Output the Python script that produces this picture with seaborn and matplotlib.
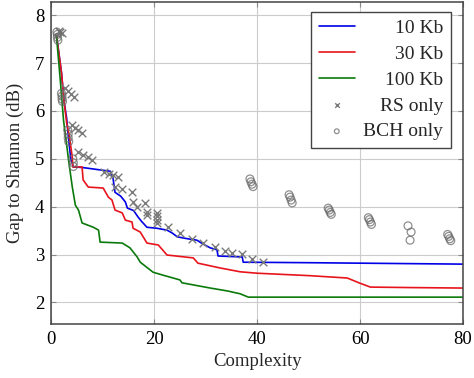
import numpy as np
import pandas as pd
import matplotlib
matplotlib.use("Agg")
import matplotlib.pyplot as plt
import seaborn as sns

# --- data ---
blue_x = [1.0, 2.0, 2.5, 3.0, 3.3, 3.8, 4.3, 6.0, 11.5, 12.0, 12.4, 13.5, 14.4, 14.8,
          16.0, 16.9, 17.5, 18.6, 20.5, 22.5, 23.5, 24.5, 26.5, 28.3, 29.5, 30.9,
          32.2, 32.4, 37.1, 37.3, 50.0, 80.0]
blue_y = [7.6, 6.8, 6.2, 5.85, 5.5, 5.0, 4.83, 4.82, 4.74, 4.6, 4.3, 4.22, 4.1, 3.97,
          3.92, 3.78, 3.7, 3.57, 3.55, 3.51, 3.45, 3.37, 3.33, 3.3, 3.22, 3.14,
          3.1, 2.97, 2.95, 2.84, 2.83, 2.8]

red_x = [1.0, 2.0, 2.5, 3.0, 3.5, 4.1, 4.2, 6.0, 6.2, 7.2, 10.1, 11.1, 11.8, 12.4,
         13.8, 14.4, 15.7, 15.9, 17.3, 18.6, 20.8, 22.5, 27.6, 28.5, 32.8, 36.7,
         40.0, 50.0, 57.5, 60.0, 62.0, 70.0, 80.0]
red_y = [7.6, 6.8, 6.2, 5.75, 5.5, 5.03, 4.83, 4.83, 4.56, 4.41, 4.39, 4.2, 4.14, 3.93,
         3.87, 3.72, 3.68, 3.55, 3.47, 3.24, 3.2, 2.99, 2.93, 2.82, 2.72, 2.64,
         2.61, 2.56, 2.51, 2.4, 2.32, 2.31, 2.3]

green_x = [1.0, 1.8, 2.4, 3.0, 3.4, 4.1, 4.7, 5.3, 6.0, 8.2, 9.2, 9.5, 13.8, 15.3,
           16.7, 17.3, 19.8, 21.7, 25.0, 25.4, 30.9, 34.2, 36.7, 38.3, 80.0]
green_y = [7.6, 6.6, 5.8, 5.3, 4.95, 4.41, 4.03, 3.93, 3.66, 3.57, 3.51, 3.26, 3.24, 3.14,
           2.95, 2.84, 2.63, 2.57, 2.47, 2.41, 2.30, 2.24, 2.18, 2.11, 2.11]

rs_x = [1.5, 1.8, 2.1, 2.7, 3.3, 3.9, 4.5, 4.1, 4.7, 5.3, 5.9, 5.3, 6.2, 7.1, 7.9,
        10.2, 11.2, 12.1, 13.0, 12.4, 13.8, 15.7, 15.9, 16.7, 18.3, 18.6, 18.6,
        20.6, 20.6, 20.6, 20.6, 22.7, 25.0, 27.4, 29.5, 31.8, 33.8, 35.1, 37.1,
        39.0, 41.2]
rs_y = [7.68, 7.65, 7.62, 6.48, 6.42, 6.36, 6.3, 5.7, 5.65, 5.6, 5.55, 5.14, 5.09,
        5.03, 4.98, 4.72, 4.69, 4.66, 4.63, 4.41, 4.37, 4.3, 4.1, 3.99, 4.08, 3.89,
        3.83, 3.87, 3.8, 3.73, 3.66, 3.57, 3.45, 3.32, 3.24, 3.16, 3.07, 3.03, 3.01,
        2.9, 2.84]

bch_x = [1.1, 1.2, 1.2, 1.3, 2.0, 2.1, 2.1, 2.2, 3.2, 3.3, 3.3, 3.4, 4.2, 4.3, 4.3,
         38.6, 38.8, 39.0, 39.2, 46.2, 46.4, 46.6, 46.8, 53.8, 54.0, 54.2, 54.4,
         61.6, 61.8, 62.0, 62.2, 69.3, 69.9, 69.7, 77.0, 77.2, 77.4, 77.6]
bch_y = [7.65, 7.6, 7.54, 7.48, 6.37, 6.31, 6.25, 6.2, 5.6, 5.52, 5.44, 5.36, 5.0,
         4.92, 4.84, 4.58, 4.52, 4.47, 4.42, 4.25, 4.2, 4.14, 4.08, 3.97, 3.93,
         3.88, 3.84, 3.77, 3.73, 3.68, 3.63, 3.6, 3.47, 3.3, 3.42, 3.38, 3.33, 3.29]

sns.set_theme(style="whitegrid")
plt.rcParams["font.family"] = ["Liberation Serif", "DejaVu Serif"]

fig, ax = plt.subplots(figsize=(4.74, 3.78), dpi=100)
fig.subplots_adjust(left=0.108, right=0.977, top=0.995, bottom=0.143)

sns.lineplot(x=blue_x, y=blue_y, ax=ax, color="#0000e6", lw=1.2,
             estimator=None, sort=False, label="10 Kb")
sns.lineplot(x=red_x, y=red_y, ax=ax, color="#e8141c", lw=1.2,
             estimator=None, sort=False, label="30 Kb")
sns.lineplot(x=green_x, y=green_y, ax=ax, color="#0a7a0a", lw=1.2,
             estimator=None, sort=False, label="100 Kb")
sns.scatterplot(x=rs_x, y=rs_y, ax=ax, marker="x", color="#7a7a7a", s=30,
                linewidth=1.0, label="RS only", zorder=4)
sns.scatterplot(x=bch_x, y=bch_y, ax=ax, marker="o", facecolor="none",
                edgecolor="#6a6a6a", s=32, linewidth=0.9, alpha=0.75,
                label="BCH only", zorder=4)

ax.set_xlim(0, 80)
ax.set_ylim(1.55, 8.28)
ax.set_xticks([0, 20, 40, 60, 80])
ax.set_yticks([2, 3, 4, 5, 6, 7, 8])
ax.set_xlabel("Complexity", fontsize=13.5, labelpad=4)
ax.set_ylabel("Gap to Shannon (dB)", fontsize=13.5, labelpad=8)

ax.grid(True, color="#cccccc", lw=0.8)
ax.set_facecolor("white")
for s in ax.spines.values():
    s.set_color("#444444")
    s.set_linewidth(1.1)
ax.tick_params(axis="both", which="major", direction="in", length=3.5,
               width=0.8, color="#888888", labelsize=13.5, labelcolor="black",
               top=True, right=True, bottom=True, left=True, pad=5)

leg = ax.legend(loc="upper right", bbox_to_anchor=(0.971, 0.969), borderaxespad=0,
                fontsize=14, frameon=True, fancybox=False, framealpha=1,
                edgecolor="#444444", handlelength=1.85, handletextpad=0.45,
                labelspacing=0.42, borderpad=0.4, markerscale=0.6)
leg.get_frame().set_linewidth(1.0)

# right-align the legend texts, as in the reference
fig.canvas.draw()
r = fig.canvas.get_renderer()
widths = [t.get_window_extent(r).width for t in leg.get_texts()]
wmax = max(widths)
for t, w in zip(leg.get_texts(), widths):
    t.set_position((wmax - w, 0))

fig.savefig("out.png", dpi=100)
